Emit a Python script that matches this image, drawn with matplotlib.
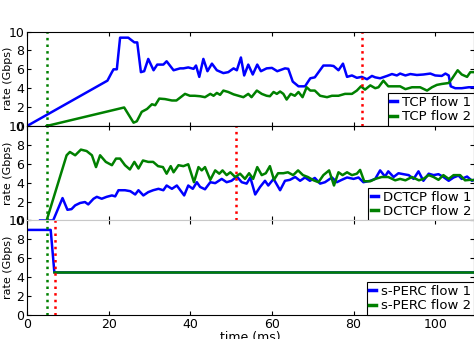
import numpy as np
import matplotlib
matplotlib.use("Agg")
import matplotlib.pyplot as plt

# TCP: rates in Gbps over time in ms
tcp1_t = [0, 19.7, 20.8, 21.2, 22.0, 22.8, 24.8, 26.3, 27.0, 27.9, 28.7, 29.7, 31.0, 31.9, 33.4,
          34.2, 35.9, 37.5, 38.3, 39.5, 40.8, 41.4, 42.2, 43.2, 44.2, 45.3, 46.5, 48.1, 49.3,
          50.6, 51.4, 52.4, 53.2, 54.2, 55.3, 56.4, 57.3, 58.7, 60.0, 61.3, 63.2, 64.0, 65.1,
          66.5, 68.1, 69.4, 70.5, 72.6, 74.3, 75.1, 76.3, 77.4, 78.4, 79.6, 80.8, 82.0, 83.3,
          84.5, 85.3, 86.5, 88.2, 89.4, 90.6, 91.4, 92.7, 93.9, 95.5, 97.1, 98.8, 100.0, 101.6,
          102.5, 103.3, 103.8, 104.9, 106.5, 108.2, 110.0]
tcp1_r = [0, 4.8, 5.7, 6.0, 6.0, 9.35, 9.35, 8.85, 8.85, 5.7, 5.8, 7.1, 5.9, 6.5, 6.5,
          6.85, 5.9, 6.1, 6.1, 6.2, 6.05, 6.4, 5.2, 7.1, 5.8, 6.6, 5.9, 5.6, 5.7,
          6.1, 5.9, 7.25, 5.35, 6.5, 5.45, 6.5, 5.8, 6.1, 6.15, 5.8, 6.1, 6.05, 4.7,
          4.2, 4.2, 5.05, 5.15, 6.4, 6.4, 6.35, 5.9, 6.6, 5.2, 5.35, 5.1, 5.2, 4.95,
          5.3, 5.15, 5.05, 5.3, 5.5, 5.35, 5.55, 5.35, 5.5, 5.4, 5.45, 5.55, 5.35, 5.3,
          5.55, 5.35, 4.2, 4.0, 4.0, 4.1, 4.1]
tcp2_t = [4.8, 23.8, 24.6, 26.1, 26.9, 28.1, 29.4, 30.6, 31.4, 32.4, 33.8, 35.5, 36.6, 38.7,
          39.9, 41.1, 42.4, 43.6, 44.9, 45.7, 46.5, 47.3, 48.1, 49.3, 50.6, 51.8, 53.0, 54.2,
          55.0, 56.3, 57.5, 58.7, 59.5, 60.4, 61.2, 62.0, 62.8, 63.6, 64.6, 65.6, 66.5, 67.5,
          68.5, 69.4, 70.5, 71.8, 73.5, 74.7, 76.3, 77.9, 79.6, 80.8, 81.8, 82.8, 84.1, 85.3,
          86.1, 87.3, 88.5, 89.8, 91.4, 92.7, 94.3, 96.3, 98.0, 99.2, 100.4, 101.6, 103.3,
          104.1, 105.5, 106.5, 107.8, 108.6, 110.0]
tcp2_r = [0, 1.96, 1.4, 0.35, 0.5, 1.5, 1.8, 2.3, 2.2, 2.9, 2.85, 2.7, 2.7, 3.4,
          3.2, 3.2, 3.15, 3.05, 3.4, 3.2, 3.5, 3.3, 3.75, 3.6, 3.35, 3.2, 3.05, 3.4,
          3.05, 3.75, 3.4, 3.2, 3.15, 3.6, 3.4, 3.65, 3.4, 2.8, 3.4, 3.2, 3.6, 3.05,
          4.1, 3.75, 3.75, 3.2, 3.05, 3.2, 3.2, 3.4, 3.4, 3.75, 4.2, 3.85, 4.3, 4.0,
          4.1, 4.8, 4.2, 4.2, 4.2, 3.9, 4.1, 4.1, 3.75, 4.1, 4.35, 4.45, 4.55,
          5.0, 5.9, 5.45, 5.2, 5.7, 5.7]

# DCTCP
dctcp1_t = [3.2, 6.4, 8.7, 9.9, 10.9, 11.8, 13.0, 14.2, 15.0, 16.3, 17.1, 18.3, 19.5, 20.8,
            21.6, 22.4, 24.0, 25.3, 26.5, 27.3, 28.5, 29.7, 30.9, 32.2, 33.4, 34.2, 35.5,
            36.7, 38.5, 39.5, 40.6, 41.6, 42.4, 43.6, 44.9, 46.1, 47.7, 48.9, 50.1, 51.4,
            52.6, 53.8, 54.7, 55.9, 57.1, 58.3, 59.1, 60.4, 62.0, 63.2, 64.4, 65.7, 66.9,
            68.1, 69.3, 70.5, 71.8, 73.0, 74.7, 75.9, 77.1, 78.4, 80.0, 81.2, 82.4, 84.1,
            85.3, 86.5, 87.7, 88.5, 89.8, 91.0, 92.2, 93.5, 94.7, 95.9, 97.1, 98.4, 99.6,
            100.8, 102.0, 103.3, 104.5, 105.7, 106.5, 107.8, 109.0, 110.0]
dctcp1_r = [0, 0, 2.37, 1.13, 1.2, 1.6, 1.85, 1.95, 1.7, 2.3, 2.5, 2.3, 2.5, 2.65,
            2.55, 3.2, 3.2, 3.1, 2.75, 3.2, 2.65, 3.0, 3.2, 3.35, 3.2, 3.7, 3.35,
            3.7, 2.65, 3.7, 3.35, 4.05, 3.55, 3.3, 4.05, 3.95, 4.4, 4.05, 4.2, 4.65,
            4.05, 3.9, 4.55, 2.75, 3.55, 4.2, 3.7, 4.4, 3.2, 4.2, 4.3, 4.6, 4.2,
            4.55, 4.2, 4.5, 3.9, 4.05, 4.55, 4.05, 4.3, 4.55, 4.4, 4.55, 4.05, 4.2,
            4.4, 5.3, 4.65, 5.2, 4.6, 5.0, 4.9, 4.8, 4.4, 5.2, 4.2, 4.95, 4.8,
            4.9, 4.6, 4.2, 4.55, 4.75, 4.4, 4.65, 4.2, 4.4]
dctcp2_t = [4.8, 9.7, 10.5, 11.8, 13.2, 14.6, 15.9, 16.9, 17.9, 19.3, 20.8, 21.8, 22.8, 24.0,
            25.2, 26.3, 27.3, 28.4, 29.7, 30.9, 32.1, 33.3, 34.2, 35.2, 35.9, 37.1, 38.3,
            39.5, 40.9, 42.0, 42.8, 43.6, 44.9, 46.1, 47.1, 47.9, 48.9, 49.8, 51.0, 52.2,
            53.4, 54.4, 55.4, 56.4, 57.5, 58.5, 59.5, 60.5, 61.5, 62.8, 63.9, 65.2, 66.4,
            67.6, 68.8, 70.2, 71.4, 72.6, 74.0, 75.2, 76.3, 77.3, 78.4, 79.6, 80.8, 81.6,
            82.6, 84.1, 85.3, 86.9, 88.5, 90.2, 91.4, 92.7, 94.3, 96.0, 97.1, 98.4, 99.6,
            100.8, 102.0, 103.3, 104.5, 106.1, 107.3, 108.5, 110.0]
dctcp2_r = [0, 6.9, 7.25, 6.9, 7.5, 7.35, 6.9, 5.65, 6.9, 6.2, 5.85, 6.55, 6.55, 5.85,
            5.4, 6.2, 5.5, 6.35, 6.2, 6.2, 5.75, 5.65, 4.95, 5.75, 5.1, 5.85, 5.75,
            5.95, 4.05, 5.65, 5.3, 5.65, 4.3, 5.3, 4.95, 5.3, 4.8, 5.1, 4.6, 4.95,
            4.4, 5.0, 4.4, 5.65, 4.8, 5.0, 5.75, 4.3, 5.0, 5.0, 5.1, 4.8, 5.3,
            4.8, 4.6, 4.25, 4.05, 4.8, 5.3, 3.7, 5.1, 4.8, 5.1, 4.8, 4.95, 5.35,
            4.15, 4.15, 4.4, 4.6, 4.6, 4.25, 4.4, 4.25, 4.6, 4.25, 4.4, 4.8, 4.6,
            4.3, 4.8, 4.4, 4.8, 4.8, 4.25, 4.3, 4.25]

# s-PERC
sperc1_t = [0, 5.8, 6.7, 110.0]
sperc1_r = [9.0, 9.0, 4.5, 4.5]
sperc2_t = [6.7, 110.0]
sperc2_r = [4.5, 4.5]

start_flow2 = 5.0
converged = [82.0, 51.2, 6.9]

panels = [
    ("TCP", tcp1_t, tcp1_r, tcp2_t, tcp2_r),
    ("DCTCP", dctcp1_t, dctcp1_r, dctcp2_t, dctcp2_r),
    ("s-PERC", sperc1_t, sperc1_r, sperc2_t, sperc2_r),
]

fig, axes = plt.subplots(3, 1, sharex=True, figsize=(4.74, 3.39), dpi=100)
fig.subplots_adjust(left=0.057, right=1.0, top=0.907, bottom=0.071, hspace=0)

for i, (ax, (name, t1, r1, t2, r2)) in enumerate(zip(axes, panels)):
    ax.plot(t1, r1, color="b", lw=1.8, label=name + " flow 1", clip_on=(i != 1))
    ax.plot(t2, r2, color="g", lw=1.8, label=name + " flow 2", clip_on=(i != 1))
    ax.axvline(start_flow2, color="g", ls=":", lw=1.8)
    ax.axvline(converged[i], color="r", ls=":", lw=1.8)
    ax.set_ylim(0, 10)
    ax.set_xlim(0, 109.5)
    ax.set_yticks([0, 2, 4, 6, 8, 10])
    ax.set_ylabel("rate (Gbps)", fontsize=8)
    ax.yaxis.set_label_coords(-0.031, 0.5)
    ax.tick_params(direction="in", top=True, right=True, labelsize=9, pad=2, length=3)
    leg = ax.legend(loc="lower right", fontsize=9.5, borderaxespad=0, handlelength=0.5,
                    handletextpad=0.4, labelspacing=0.1, borderpad=0.2, fancybox=False,
                    framealpha=1)
    leg.get_frame().set_edgecolor("black")
    leg.get_frame().set_linewidth(0.8)
    for line in leg.get_lines():
        line.set_linewidth(2.5)

axes[1].spines["bottom"].set_color("#c8c8c8")
axes[2].spines["top"].set_color("#c8c8c8")
axes[2].set_xticks([0, 20, 40, 60, 80, 100])
axes[2].set_xlabel("time (ms)", fontsize=9, labelpad=0)

fig.savefig("out.png", dpi=100)
